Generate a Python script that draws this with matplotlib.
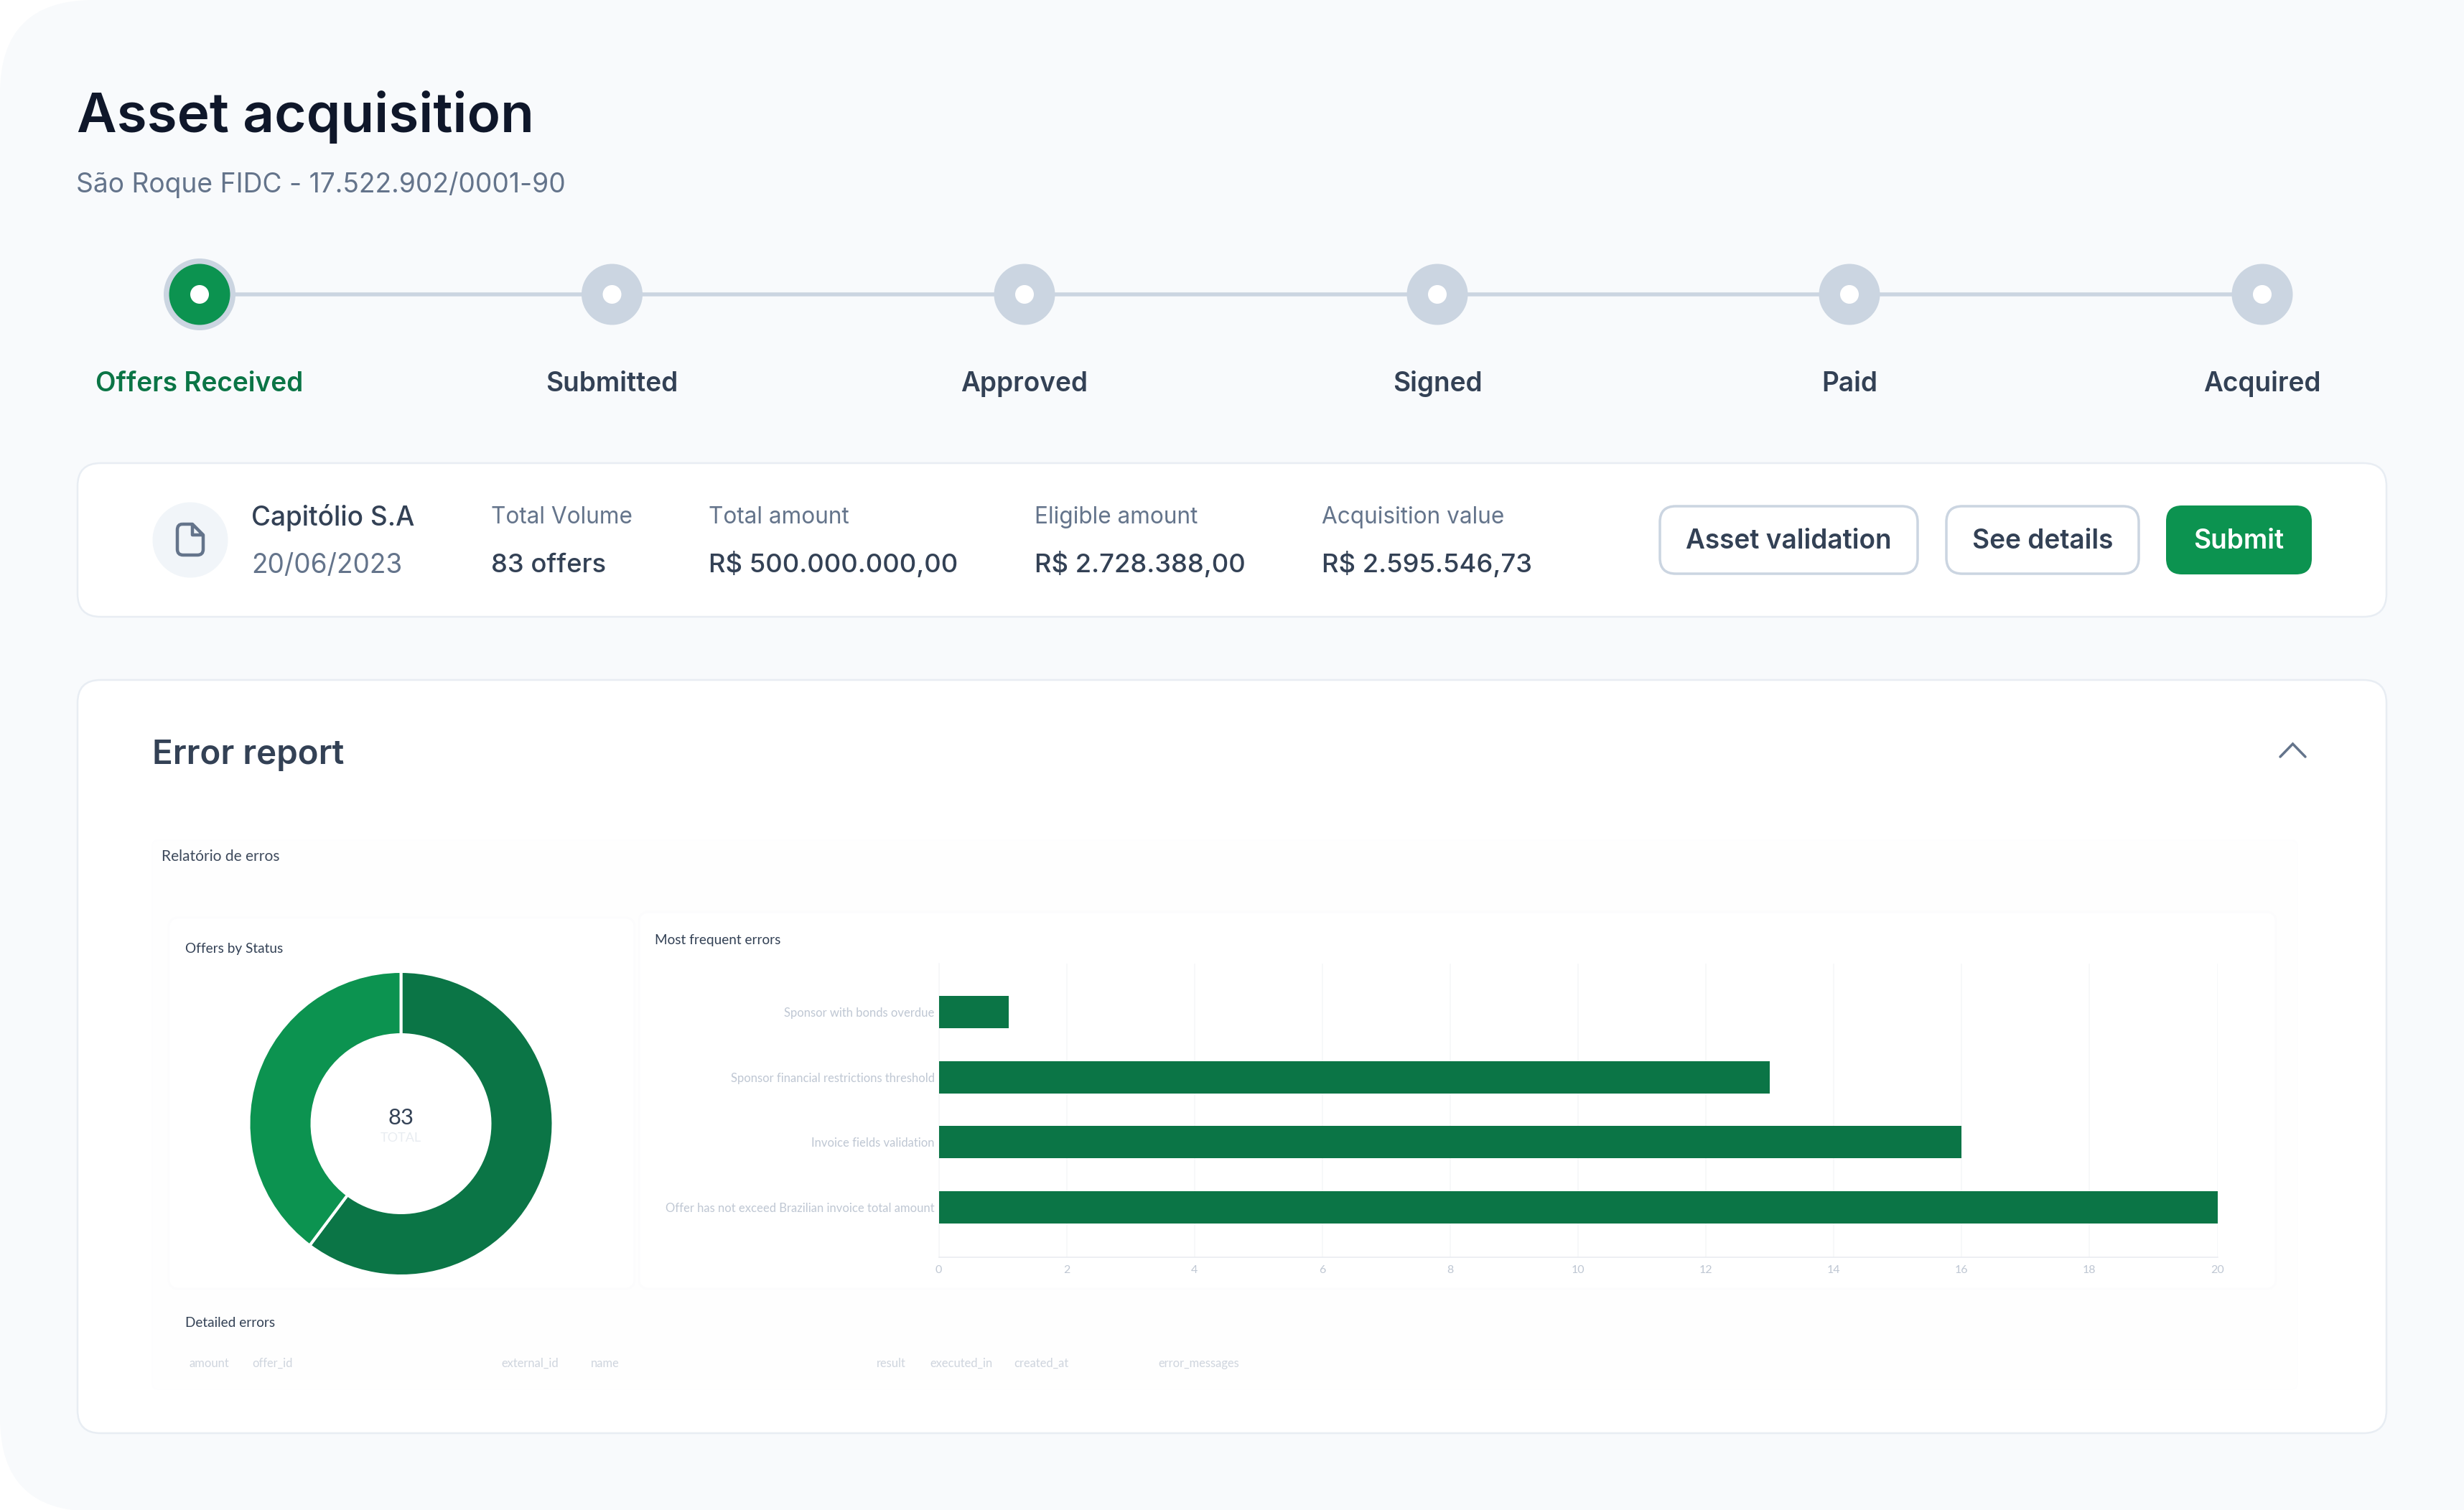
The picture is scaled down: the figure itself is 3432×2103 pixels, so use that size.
import matplotlib
matplotlib.use("Agg")
import matplotlib.pyplot as plt
from matplotlib.patches import FancyBboxPatch, Circle, PathPatch
from matplotlib.path import Path

W, H = 3432, 2103

# ---- data ----
steps = ["Offers Received", "Submitted", "Approved", "Signed", "Paid", "Acquired"]
status_values = [50, 33]
error_labels = ["Sponsor with bonds overdue", "Sponsor financial restrictions threshold",
                "Invoice fields validation", "Offer has not exceed Brazilian invoice total amount"]
error_counts = [1.1, 13, 16, 20]
x_ticks = [0, 2, 4, 6, 8, 10, 12, 14, 16, 18, 20]
table_columns = ["amount", "offer_id", "external_id", "name", "result",
                 "executed_in", "created_at", "error_messages"]
summary_labels = ["Total Volume", "Total amount", "Eligible amount", "Acquisition value"]
summary_values = ["83 offers", "R$ 500.000.000,00", "R$ 2.728.388,00", "R$ 2.595.546,73"]
total_label = "83"

# ---- style ----
DARK_GREEN = "#0B7546"
GREEN = "#0C9350"
BG = "#F8FAFC"
LINE = "#CBD5E1"
SLATE = "#334155"
MUTED = "#64748B"
FAINT = "#BFC7D3"
UI = ["Inter", "DejaVu Sans"]
CH = ["Lato", "DejaVu Sans"]


def pt(px):
    return px * 0.72


fig = plt.figure(figsize=(W / 100, H / 100), dpi=100, facecolor="white")
ui = fig.add_axes([0, 0, 1, 1], zorder=0)
ui.set_xlim(0, W)
ui.set_ylim(H, 0)
ui.axis("off")


def box(x0, y0, x1, y1, r, fc, ec="none", lw=0, z=1):
    ui.add_patch(FancyBboxPatch((x0 + r, y0 + r), x1 - x0 - 2 * r, y1 - y0 - 2 * r,
                                boxstyle=f"round,pad={r},rounding_size={r}",
                                fc=fc, ec=ec, lw=lw, zorder=z, mutation_aspect=1))


def label(x, y, s, px, color, weight="normal", ha="left", va="baseline", fam=UI, z=5):
    ui.text(x, y, s, fontsize=pt(px), color=color, fontweight=weight, ha=ha, va=va,
            family=fam, zorder=z)


# page panel
box(0, 0, W + 300, H + 2, 130, BG)

# header
label(107, 184, "Asset acquisition", 76.5, "#0F172A", "semibold")
label(106, 268, "São Roque FIDC - 17.522.902/0001-90", 37.2, MUTED)

# stepper
step_x = [278, 852.5, 1427, 2002, 2576, 3151]
step_y = 410
ui.plot([step_x[0], step_x[-1]], [step_y, step_y], color=LINE, lw=pt(5.5), zorder=2,
        solid_capstyle="butt")
for i, (x, s) in enumerate(zip(step_x, steps)):
    if i == 0:
        ui.add_patch(Circle((x, step_y), 50, fc=LINE, ec="none", zorder=3))
    ui.add_patch(Circle((x, step_y), 42.5, fc=GREEN if i == 0 else LINE, ec="none", zorder=4))
    ui.add_patch(Circle((x, step_y), 13, fc="white", ec="none", zorder=5))
    label(x, 545, s, 37, DARK_GREEN if i == 0 else SLATE, "semibold", ha="center")

# summary card
box(108, 645, 3324, 859, 32, "white", "#E8EDF3", pt(2.5))
ui.add_patch(Circle((265, 752), 52.5, fc="#F1F5F9", ec="none", zorder=3))
M, L, C = Path.MOVETO, Path.LINETO, Path.CURVE3
doc = Path([(254, 730), (268, 730), (283, 745), (283, 765), (283, 773), (275, 773),
            (255, 773), (247, 773), (247, 765), (247, 738), (247, 730), (254, 730),
            (268, 730), (268, 745), (283, 745)],
           [M, L, L, L, C, C, L, C, C, L, C, C, M, L, L])
ui.add_patch(PathPatch(doc, fc="none", ec=MUTED, lw=pt(4.5), zorder=4, joinstyle="round"))
label(350, 732, "Capitólio S.A", 37, SLATE, "medium")
label(350, 798, "20/06/2023", 37, MUTED)
for x, a, b in zip([684, 987, 1441, 1841], summary_labels, summary_values):
    label(x, 729, a, 31.6, MUTED)
    label(x, 797, b, 36.4, SLATE, "medium")

# buttons
box(2312, 705, 2671, 799, 22, "white", LINE, pt(3.5), z=3)
box(2711, 705, 2979, 799, 22, "white", LINE, pt(3.5), z=3)
box(3017, 704, 3220, 800, 22, GREEN, z=3)
label(2491, 754, "Asset validation", 37, SLATE, "semibold", ha="center", va="center")
label(2845, 754, "See details", 37, SLATE, "semibold", ha="center", va="center")
label(3118, 754, "Submit", 37, "white", "semibold", ha="center", va="center")

# error report card
box(108, 947, 3324, 1996, 32, "white", "#E8EDF3", pt(2.5))
label(212, 1064, "Error report", 47.5, SLATE, "semibold")
ui.plot([3176, 3193.5, 3211], [1054, 1036, 1054], color=MUTED, lw=pt(3.5), zorder=4,
        solid_capstyle="round", solid_joinstyle="miter")

# embedded report panels
box(212, 1170, 3200, 1935, 8, "#FEFEFE", "#FDFDFE", 1, z=2)
box(235, 1278, 884, 1795, 14, "white", "#FCFCFD", 2, z=3)
box(890, 1270, 3170, 1795, 14, "white", "#FCFCFD", 2, z=3)
label(225, 1193, "Relatório de erros", 21, "#3E4A5C", va="center", fam=CH)
label(258, 1321, "Offers by Status", 19, "#334155", va="center", fam=CH)
label(912, 1310, "Most frequent errors", 19, "#334155", va="center", fam=CH)
label(258, 1842, "Detailed errors", 19, "#334155", va="center", fam=CH)
for x, c in zip([263, 351, 698, 823, 1221, 1295, 1412, 1613], table_columns):
    label(x, 1899, c, 16.5, "#CFD5DE", va="center", fam=CH)


def child(x0, y0, x1, y1):
    return fig.add_axes([x0 / W, 1 - y1 / H, (x1 - x0) / W, (y1 - y0) / H], zorder=5)


# donut
R = 212
cx, cy = 558.5, 1565
d = child(cx - R, cy - R, cx + R, cy + R)
d.pie(status_values, colors=[DARK_GREEN, GREEN], startangle=90, counterclock=False, radius=1,
      wedgeprops=dict(width=88 / R, edgecolor="white", linewidth=pt(4)))
d.set_xlim(-1, 1)
d.set_ylim(-1, 1)
d.patch.set_alpha(0)
d.text(0, 0.04, total_label, fontsize=pt(31), color=SLATE, ha="center", va="center", family=CH)
d.text(0, -0.095, "TOTAL", fontsize=pt(18), color="#E8ECF1", ha="center", va="center", family=CH)

# bars
b = child(1307.5, 1342, 3088.5, 1751)
b.patch.set_alpha(0)
ypos = list(range(len(error_counts)))
b.barh(ypos, error_counts, height=0.5, color=DARK_GREEN, zorder=3)
b.set_xlim(0, 20)
b.set_ylim(3.77, -0.75)
b.set_xticks(x_ticks)
b.set_yticks(ypos)
b.set_yticklabels(error_labels, fontsize=pt(16.6), color=FAINT, family=CH)
b.tick_params(axis="y", length=0, pad=pt(6))
b.tick_params(axis="x", length=0, pad=pt(11), labelsize=pt(16), labelcolor=FAINT)
for t in b.get_xticklabels():
    t.set_family(CH)
b.grid(axis="x", color="#F5F6F8", lw=pt(1.5), zorder=0)
for s in ["top", "right"]:
    b.spines[s].set_visible(False)
b.spines["left"].set_color("#F5F6F8")
b.spines["left"].set_linewidth(pt(1.5))
b.spines["bottom"].set_color("#E8EBF0")
b.spines["bottom"].set_linewidth(pt(1.5))

fig.savefig("out.png", dpi=100, facecolor="white")
